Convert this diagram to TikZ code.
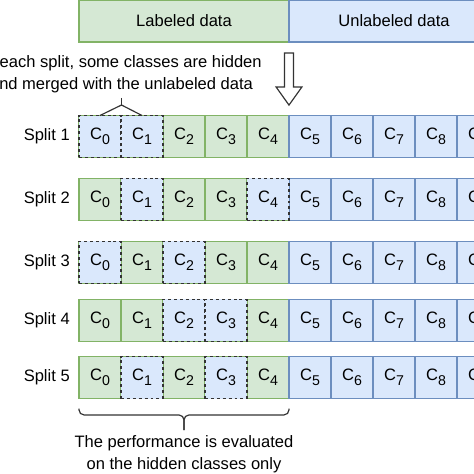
\documentclass[tikz,border=0pt]{standalone}
\usepackage{fontspec}
\setmainfont{Liberation Sans}
\usetikzlibrary{positioning,calc}
\definecolor{labfill}{HTML}{D5E8D4}
\definecolor{labdraw}{HTML}{82B366}
\definecolor{unlfill}{HTML}{DAE8FC}
\definecolor{unldraw}{HTML}{6C8EBF}
\definecolor{ink}{HTML}{333333}
\newcommand\cls[1]{C\raisebox{-3.2pt}{\fontsize{9.6}{9.6}\selectfont#1}}

\begin{document}
\begin{tikzpicture}[
  font=\fontsize{11.2}{14.8}\selectfont,
  cell/.style={rectangle, minimum width=1cm, minimum height=1cm, inner sep=0pt, outer sep=0pt, line width=0.7pt},
  lab/.style={cell, draw=labdraw, fill=labfill},
  unl/.style={cell, draw=unldraw, fill=unlfill},
  hid/.style={cell, draw=ink, fill=unlfill, dash pattern=on 2pt off 2pt},
  bar/.style={cell, minimum width=5cm},
  line/.style={ink, line width=0.8pt}
]
  \path[use as bounding box, clip] (0,0) rectangle (11.286,-11.286);

  % Data bar
  \node[bar, draw=labdraw, fill=labfill] (labeled) at (4.381,-0.5) {Labeled data};
  \node[bar, draw=unldraw, fill=unlfill, right=0pt of labeled] (unlabeled) {Unlabeled data};

  % Splits
  \foreach \r/\y/\ha/\hb in {1/-3.25/0/1, 2/-4.75/1/4, 3/-6.25/0/2, 4/-7.63/2/3, 5/-8.99/1/3} {
    \node[anchor=east, inner sep=0pt] (split\r) at (1.667,\y) {Split \r};
    \foreach \j in {0,...,4}
      \node[lab] (s\r c\j) at (2.381+\j,\y) {\cls{\j}};
    \foreach \j in {5,...,9}
      \node[unl] (s\r c\j) at (2.381+\j,\y) {\cls{\j}};
    \foreach \h in {\ha,\hb}
      \node[hid] (s\r h\h) at (s\r c\h) {\cls{\h}};
  }

  % Hidden classes note
  \node[align=center] (hidetext) at (2.893,-1.76) {In each split, some classes are hidden\\and merged with the unlabeled data};
  \coordinate (fork) at (2.893,-2.5);
  \draw[line] (hidetext.south) -- (fork);
  \draw[line] (s1c0.north) -- (fork) -- (s1c1.north);

  % Hollow arrow
  \coordinate (arrowtop) at ([yshift=-0.262cm]labeled.south east);
  \draw[line, fill=white] ([xshift=-0.107cm]arrowtop) -- ++(0,-0.81) -- ++(-0.2,0)
    -- ++(0.307,-0.43) -- ++(0.307,0.43) -- ++(-0.2,0) -- ++(0,0.81) -- cycle;

  % Brace
  \coordinate (bl) at ([yshift=-0.24cm]s5c0.south west);
  \coordinate (br) at ([yshift=-0.24cm]s5c4.south east);
  \coordinate (bracemid) at ([yshift=-0.15cm]$(bl)!0.5!(br)$);
  \node[anchor=north, align=center] (perftext) at ([yshift=-0.36cm]bracemid) {The performance is evaluated\\on the hidden classes only};
  \draw[line, rounded corners=0.12cm] (bl) |- (bracemid) -- (perftext.north);
  \draw[line, rounded corners=0.12cm] (br) |- (bracemid) -- (perftext.north);
\end{tikzpicture}
\end{document}
